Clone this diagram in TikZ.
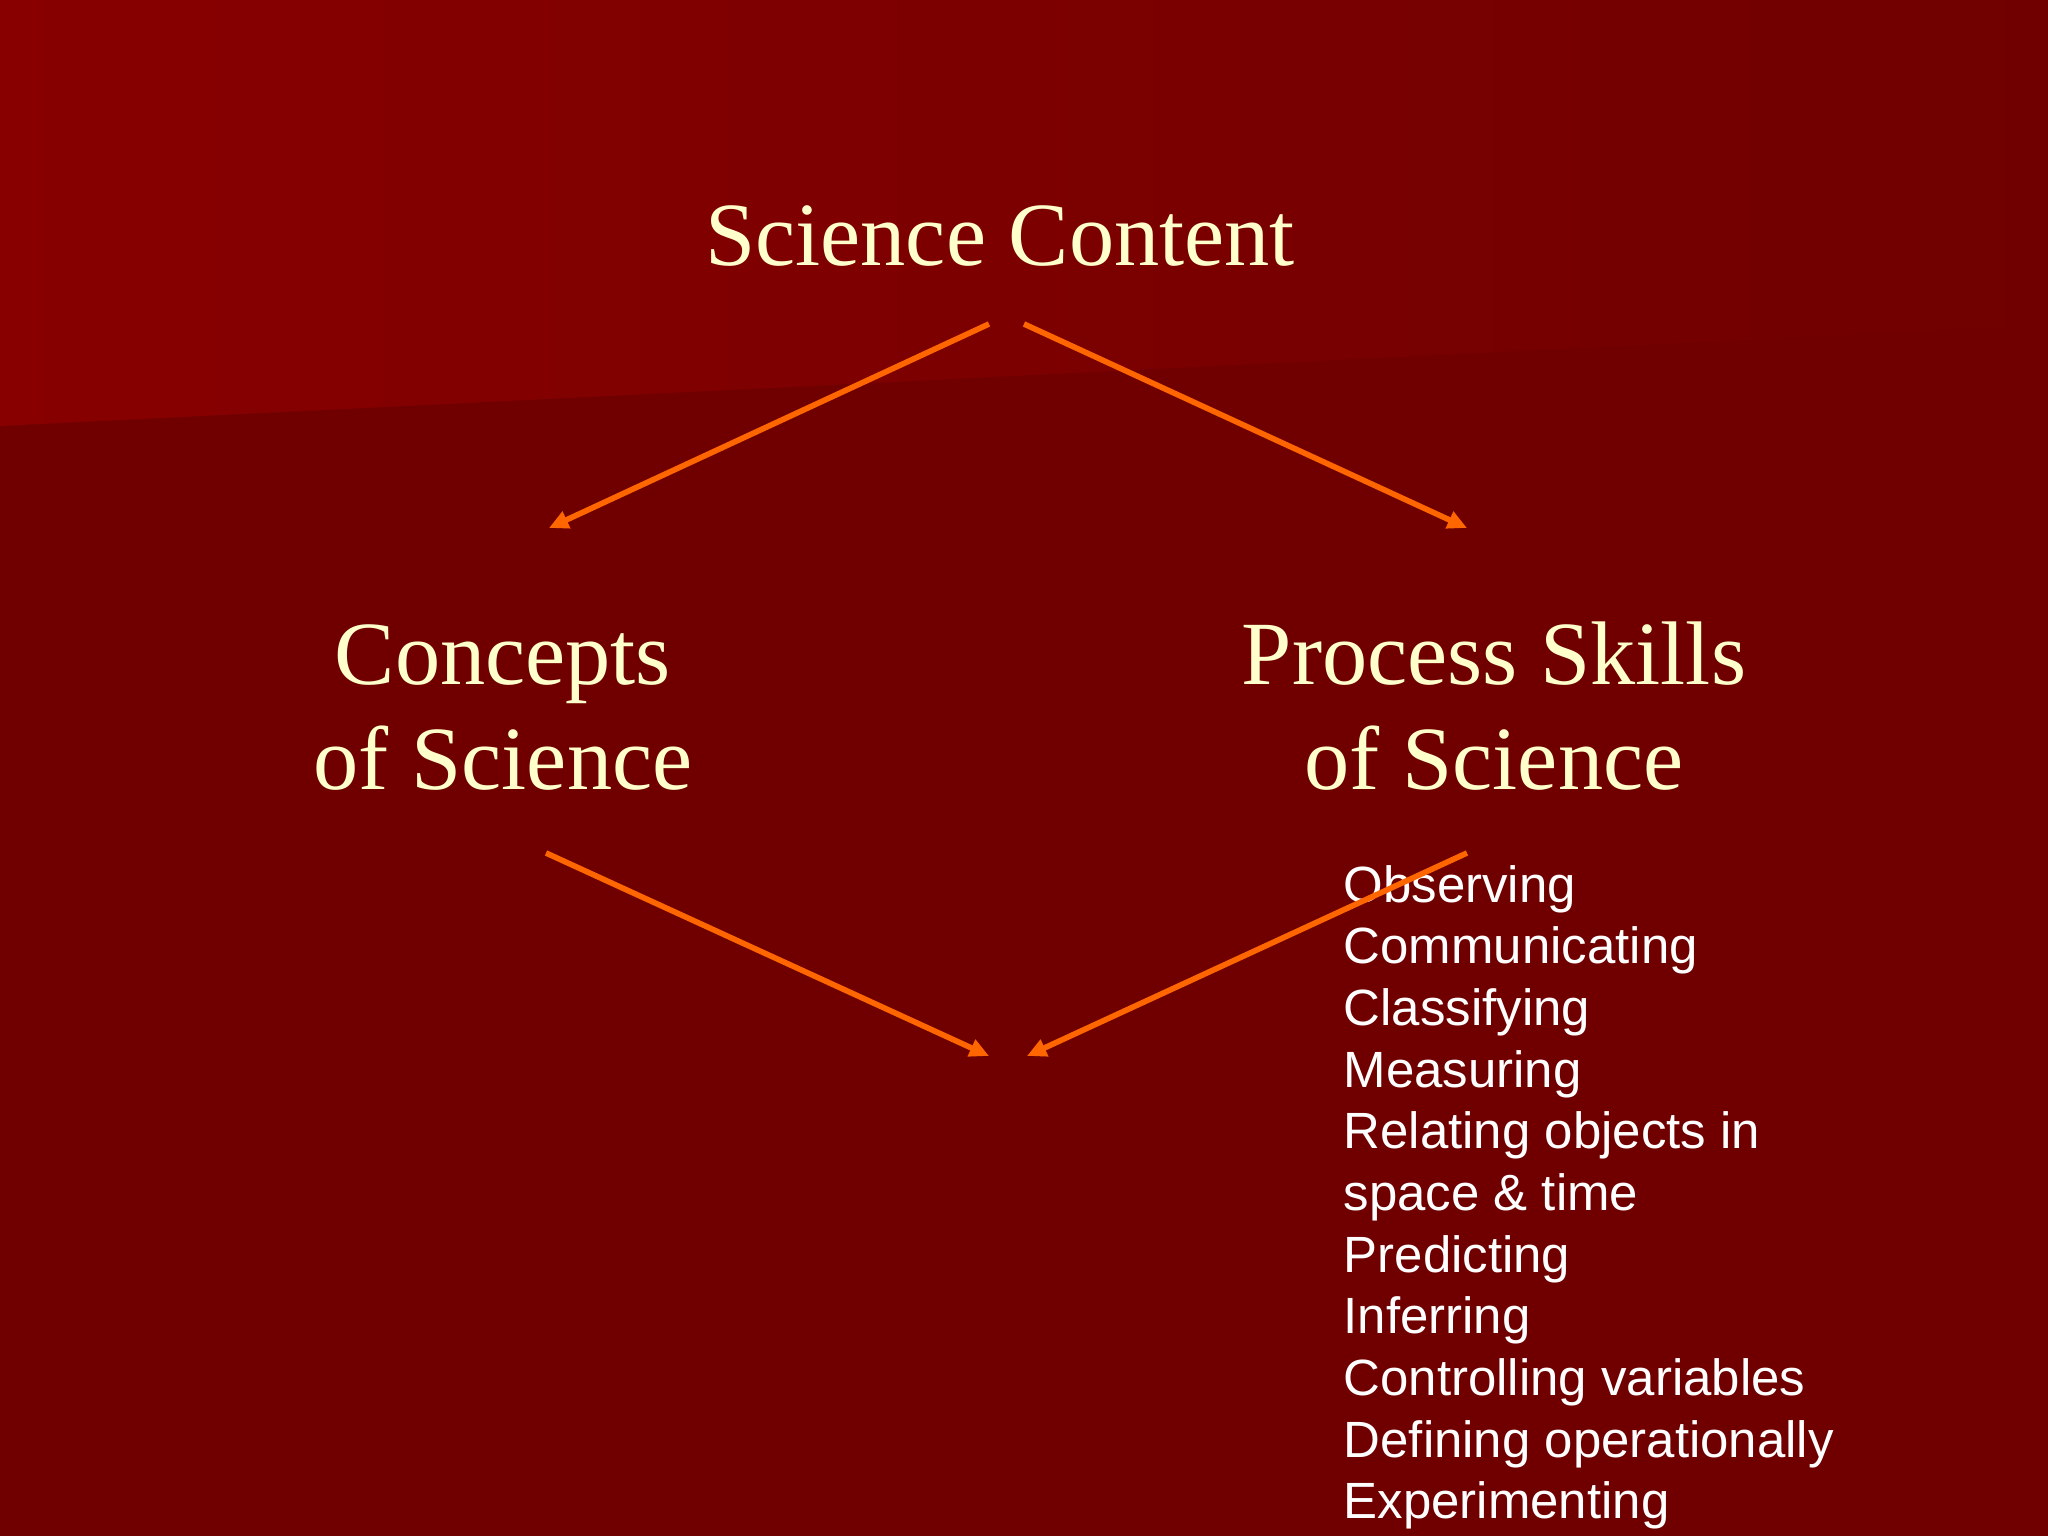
\documentclass[tikz,border=0pt]{standalone}
\usepackage{fontspec}
\setmainfont{Liberation Serif}
\setsansfont{Liberation Sans}
\usepackage{xcolor}
\usetikzlibrary{arrows.meta}
\definecolor{slidered}{RGB}{112,0,0}
\definecolor{slidetop}{RGB}{136,0,0}
\definecolor{arroworange}{RGB}{255,102,0}
\definecolor{cream}{RGB}{255,255,204}

\begin{document}
\begin{tikzpicture}[link/.style={>={Triangle[length=5.5pt,width=5pt]}, line width=1.6pt},
	title/.style={text=cream, font=\fontsize{25.7}{30}\selectfont, inner sep=0pt, align=center, anchor=base}]
	\useasboundingbox (0, 0) rectangle (20.48, 15.36);
	\fill[slidered] (0, 0) rectangle (20.48, 15.36);
	\shade[left color=slidetop, right color=slidered] (0, 15.36) -- (20.48, 15.36) -- (20.48, 12.11) -- (0, 11.10) -- cycle;
	\coordinate (top1) at (9.89, 12.12);
	\coordinate (top2) at (10.24, 12.12);
	\coordinate (cpt) at (5.49, 10.08);
	\coordinate (psk) at (14.67, 10.08);
	\coordinate (cpb) at (5.46, 6.83);
	\coordinate (psb) at (14.67, 6.83);
	\coordinate (bot1) at (9.89, 4.80);
	\coordinate (bot2) at (10.27, 4.80);
	\node[title] (Content) at (10.00, 12.70) {Science Content};
	\node[title] (Concepts) at (5.03, 7.46) {Concepts\\of Science};
	\node[title] (Skills) at (14.94, 7.46) {Process Skills\\of Science};
	\node[anchor=base west, inner sep=0pt, align=left, text=white, font=\sffamily\fontsize{14.5}{17.55}\selectfont] (SkillList) at (13.43, 0.17) {Observing\\Communicating\\Classifying\\Measuring\\Relating objects in\\space \& time\\Predicting\\Inferring\\Controlling variables\\Defining operationally\\Experimenting};
	\draw[->, link, color=arroworange] (top1) -- (cpt);
	\draw[->, link, color=arroworange] (top2) -- (psk);
	\draw[->, link, color=arroworange] (cpb) -- (bot1);
	\draw[->, link, color=arroworange] (psb) -- (bot2);
\end{tikzpicture}
\end{document}
